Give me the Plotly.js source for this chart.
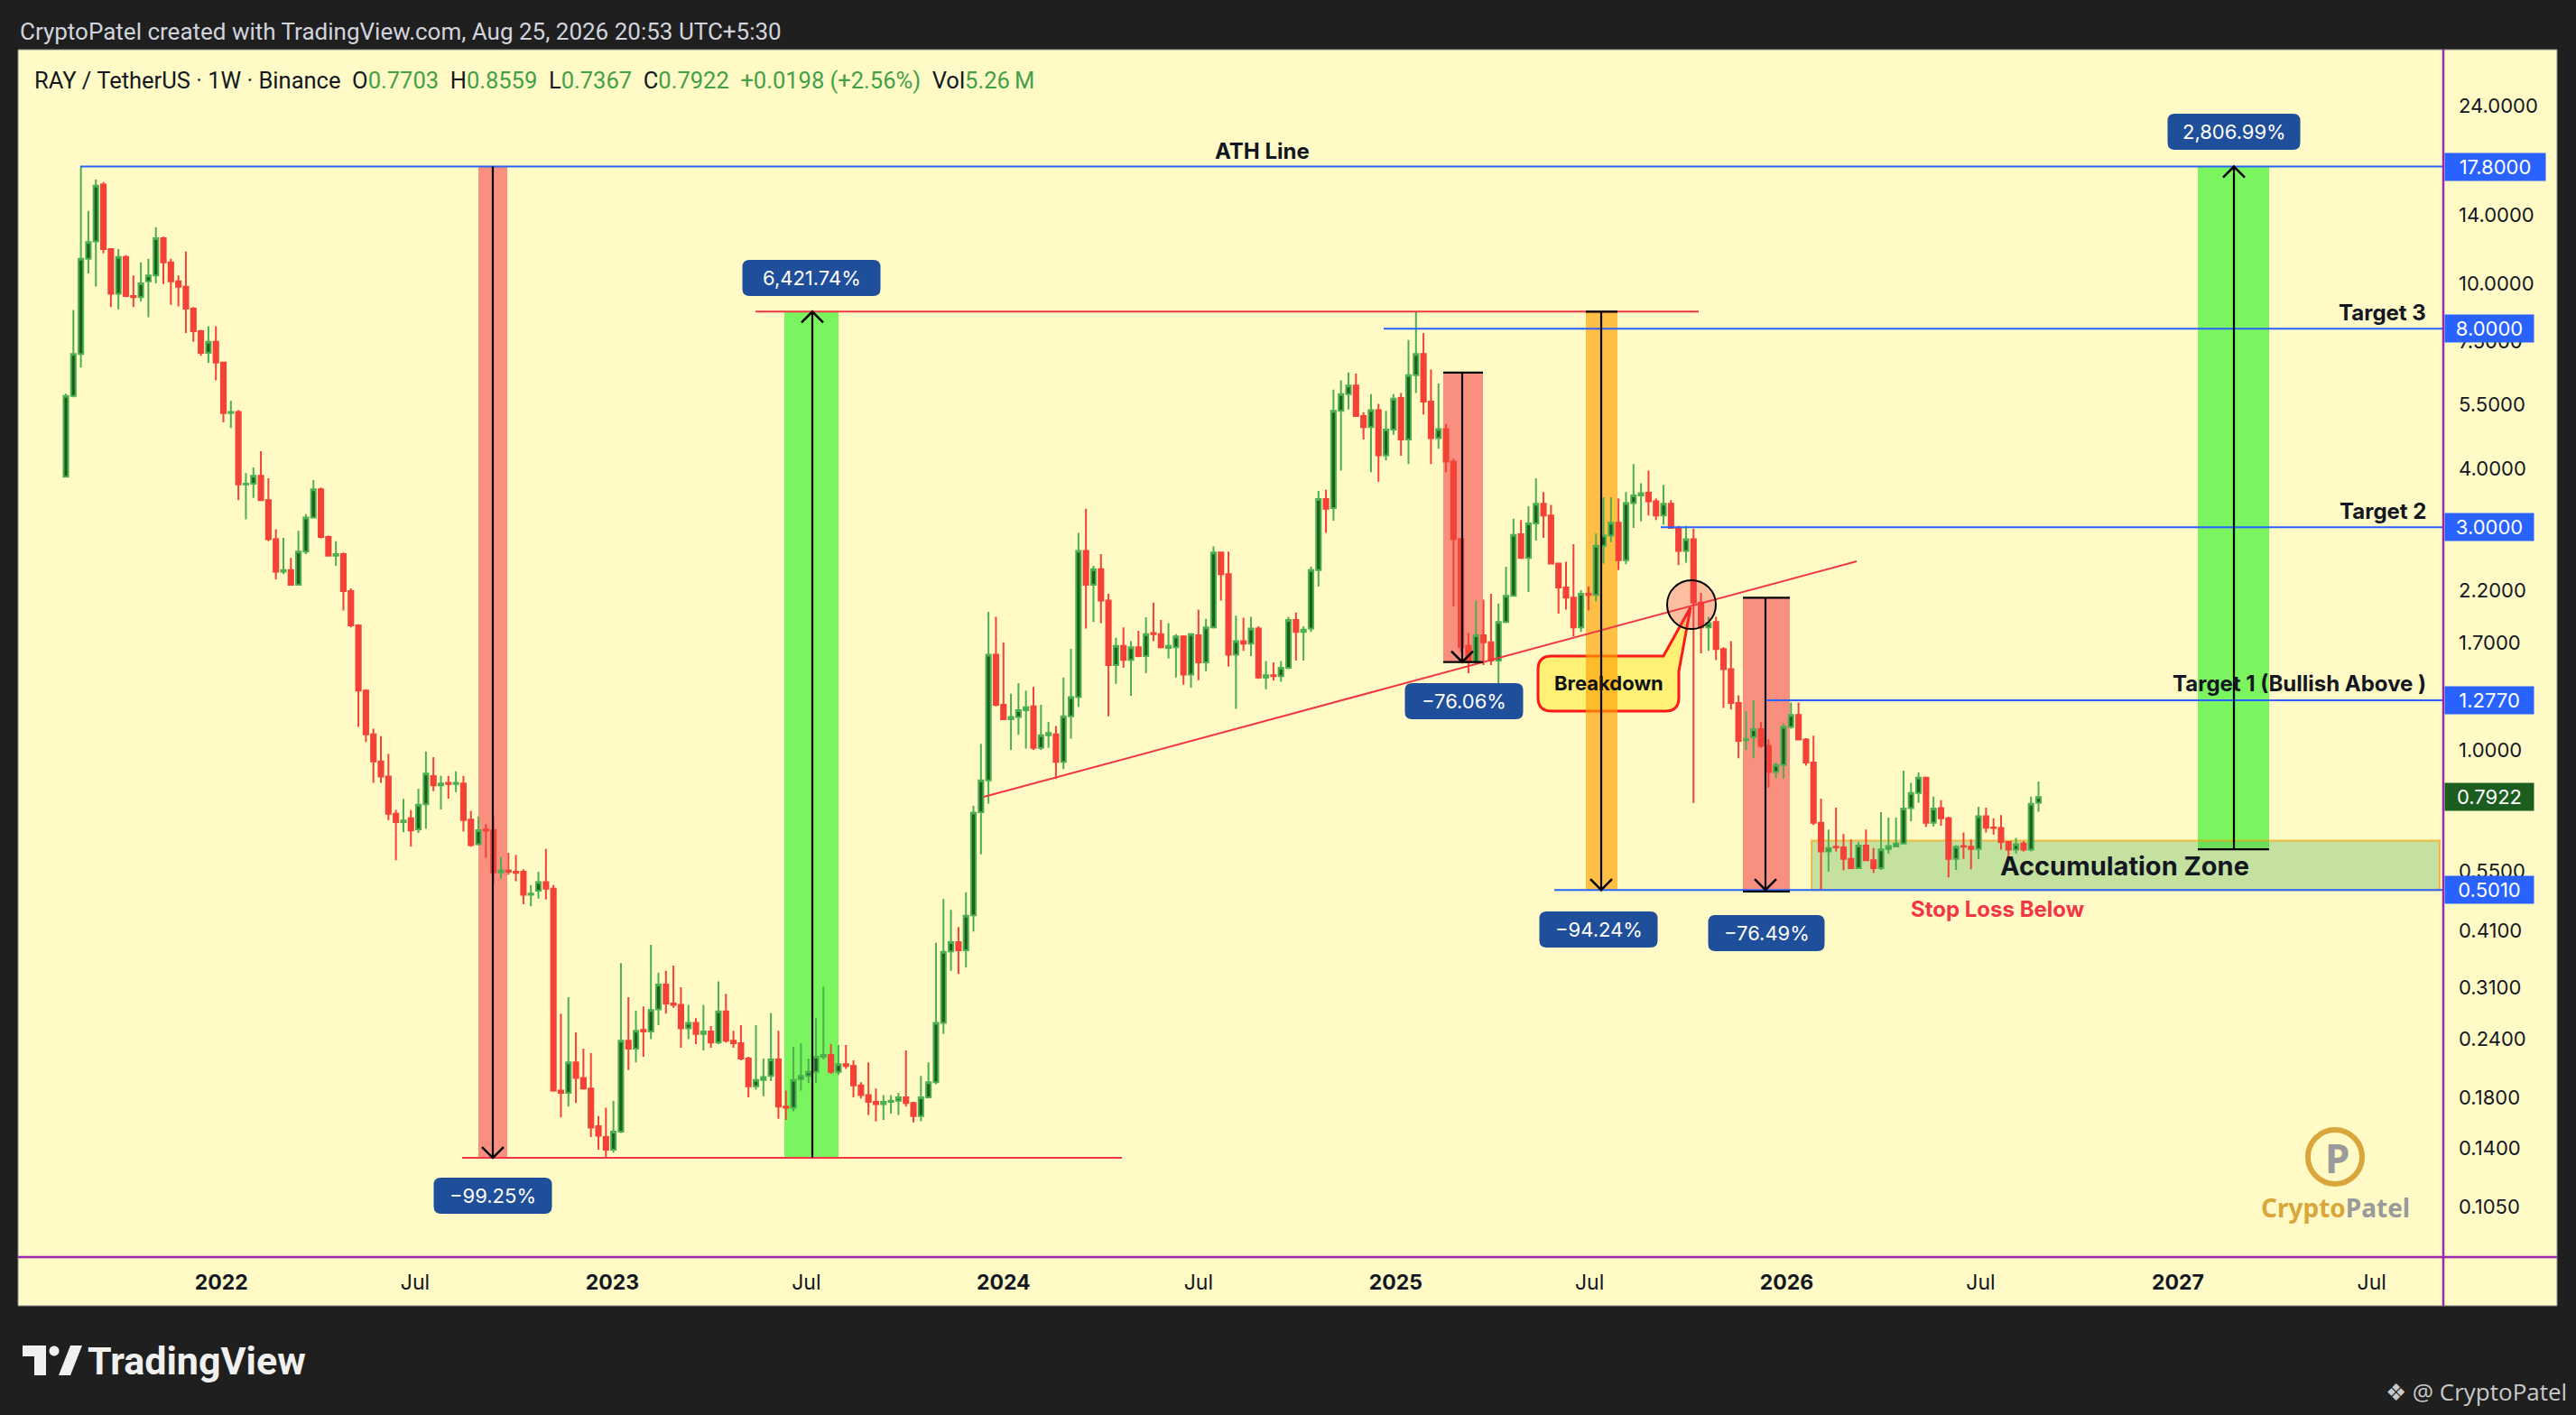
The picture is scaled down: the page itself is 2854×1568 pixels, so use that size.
<!DOCTYPE html>
<html><head><meta charset="utf-8">
<script src="https://cdn.plot.ly/plotly-3.0.1.min.js"></script>
<style>html,body{margin:0;padding:0;background:#1f1f1f;overflow:hidden}#chart{width:2854px;height:1568px}</style>
</head><body><div id="chart"></div>
<script>
// ---------------- DATA (weekly RAY/USDT, first bar week of 2021-08-09) ----------------
const firstWeek = '2021-08-09';
const openP = [
3.85,5.74,7.06,11.3,12.3,16.3,11.85,9.5,11.4,9.4,
9.35,10.1,10.4,12.5,11.1,10.1,9.84,8.83,7.9,7.1,
7.5,6.77,5.27,5.3,3.71,3.72,3.87,3.43,2.83,2.41,
2.43,2.26,2.66,3.15,3.62,2.86,2.61,2.63,2.19,1.85,
1.34,1.08,0.945,0.877,0.73,0.70,0.714,0.676,0.765,0.879,
0.84,0.85,0.845,0.847,0.709,0.628,0.675,0.673,0.546,0.552,
0.548,0.548,0.489,0.499,0.521,0.504,0.186,0.184,0.214,0.198,
0.188,0.156,0.148,0.139,0.152,0.238,0.229,0.251,0.249,0.278,
0.314,0.286,0.284,0.253,0.26,0.246,0.249,0.236,0.275,0.238,
0.235,0.218,0.19,0.196,0.2,0.217,0.172,0.171,0.197,0.2,
0.204,0.22,0.222,0.204,0.212,0.21,0.191,0.182,0.176,0.174,
0.176,0.177,0.18,0.175,0.164,0.18,0.194,0.26,0.37,0.387,
0.372,0.442,0.735,0.86,1.6,1.249,1.164,1.177,1.216,1.24,
1.01,1.075,1.08,0.943,1.18,1.297,2.67,2.26,2.44,2.09,
1.52,1.67,1.56,1.66,1.59,1.78,1.77,1.655,1.66,1.75,
1.45,1.76,1.54,1.83,2.65,2.38,1.6,1.71,1.69,1.82,
1.43,1.445,1.44,1.5,1.9,1.79,1.82,2.43,3.45,3.3,
5.33,5.79,6.04,5.2,4.92,5.35,4.28,4.86,5.68,4.63,
6.36,7.06,5.58,4.66,4.87,4.15,2.83,1.67,1.54,1.76,
1.70,1.555,1.88,2.14,2.9,2.58,3.06,3.37,3.18,2.51,
2.23,2.12,1.83,2.16,2.15,2.74,2.88,3.07,2.55,3.38,
3.51,3.56,3.41,3.18,3.37,2.99,2.67,2.83,2.07,1.83,
1.88,1.645,1.49,1.26,1.05,1.065,1.108,1.02,0.897,0.928,
1.12,1.188,1.053,0.94,0.698,0.606,0.62,0.618,0.584,0.558,
0.624,0.58,0.558,0.613,0.621,0.63,0.75,0.808,0.872,0.698,
0.75,0.714,0.584,0.622,0.62,0.613,0.721,0.682,0.68,0.635,
0.611,0.63,0.611,0.7703];
const highP = [
5.8,8.77,17.8,14.3,16.7,16.5,11.9,11.85,11.5,10.4,
11.1,11.3,13.2,12.6,11.3,10.4,11.7,8.9,7.95,8.1,
8.1,6.8,5.6,5.35,3.92,4.03,4.37,3.82,2.97,2.85,
2.58,2.95,3.2,3.79,3.65,2.88,2.8,2.65,2.22,1.86,
1.35,1.11,1.07,0.98,0.744,0.785,0.743,0.826,0.992,0.965,
0.88,0.88,0.9,0.88,0.74,0.72,0.693,0.725,0.589,0.602,
0.595,0.555,0.513,0.548,0.613,0.513,0.272,0.295,0.248,0.229,
0.224,0.164,0.171,0.177,0.349,0.295,0.276,0.282,0.382,0.333,
0.336,0.345,0.31,0.284,0.266,0.284,0.256,0.319,0.3,0.25,
0.257,0.22,0.257,0.218,0.273,0.25,0.186,0.231,0.235,0.218,
0.266,0.311,0.234,0.233,0.233,0.216,0.194,0.214,0.188,0.182,
0.182,0.184,0.227,0.176,0.2,0.214,0.386,0.479,0.454,0.417,
0.495,0.759,1.03,1.977,1.93,1.70,1.32,1.39,1.34,1.364,
1.249,1.148,1.125,1.43,1.647,2.92,3.29,2.48,2.63,2.16,
1.74,1.83,1.71,1.8,1.925,2.07,1.9,1.87,1.77,1.76,
1.78,2.0,1.91,2.73,2.66,2.66,1.94,1.92,1.93,1.84,
1.55,1.54,1.55,1.93,1.97,1.84,2.47,3.59,3.61,5.92,
6.2,6.44,6.41,5.29,5.79,5.52,5.33,5.79,5.82,7.56,
8.7,7.82,6.54,6.1,5.0,4.21,2.85,1.78,2.09,2.1,
2.16,2.06,2.47,3.13,3.11,3.33,3.82,3.57,3.35,2.52,
2.53,2.76,2.2,2.24,2.91,3.48,3.48,3.46,3.57,4.1,
3.73,3.97,3.46,3.7,3.43,3.02,3.02,2.98,2.17,1.93,
1.93,1.66,1.71,1.31,1.21,1.277,1.147,1.054,0.94,1.139,
1.264,1.264,1.06,1.073,0.786,0.675,0.752,0.66,0.643,0.635,
0.675,0.616,0.735,0.716,0.716,0.903,0.85,0.895,0.873,0.794,
0.78,0.719,0.625,0.665,0.643,0.755,0.752,0.714,0.725,0.638,
0.648,0.638,0.794,0.8559];
const lowP = [
3.85,5.7,6.6,10.5,9.85,11.6,8.9,8.8,9.35,8.9,
9.14,8.46,10.0,9.97,9.0,8.93,7.83,7.5,7.0,6.75,
6.2,5.04,4.9,3.43,3.12,3.47,3.42,2.8,2.32,2.38,
2.25,2.25,2.63,3.13,2.84,2.6,2.48,1.99,1.83,1.12,
1.04,0.85,0.85,0.707,0.58,0.666,0.62,0.664,0.677,0.816,
0.745,0.786,0.812,0.668,0.62,0.624,0.587,0.517,0.53,0.54,
0.523,0.467,0.462,0.48,0.478,0.185,0.163,0.172,0.175,0.187,
0.148,0.139,0.1335,0.137,0.151,0.206,0.214,0.22,0.24,0.257,
0.272,0.28,0.23,0.24,0.234,0.227,0.23,0.234,0.236,0.23,
0.216,0.18,0.187,0.181,0.195,0.162,0.161,0.168,0.186,0.193,
0.193,0.217,0.202,0.201,0.207,0.18,0.179,0.165,0.16,0.161,
0.166,0.165,0.172,0.159,0.16,0.179,0.192,0.246,0.336,0.331,
0.342,0.408,0.597,0.767,1.24,1.16,1.0,1.077,1.007,1.0,
1.0,1.01,0.866,0.91,1.057,1.235,1.82,1.88,1.87,1.18,
1.386,1.5,1.306,1.58,1.46,1.71,1.65,1.57,1.43,1.38,
1.36,1.41,1.475,1.82,2.09,1.51,1.225,1.63,1.59,1.42,
1.35,1.407,1.4,1.49,1.555,1.555,1.79,2.24,2.92,3.1,
3.97,5.37,5.18,4.63,3.94,3.76,4.18,4.74,4.27,4.1,
5.82,5.24,4.1,4.42,3.94,2.03,1.62,1.46,1.53,1.52,
1.52,1.38,1.87,2.13,2.57,2.18,2.81,2.85,2.5,1.96,
2.0,1.75,1.79,1.99,2.08,2.51,2.79,2.43,2.5,2.99,
3.09,3.18,3.11,3.04,2.98,2.49,2.52,0.77,1.61,1.63,
1.56,1.23,1.22,0.96,1.0,0.96,1.01,0.83,0.87,0.868,
1.11,1.05,0.925,0.69,0.501,0.548,0.606,0.552,0.556,0.556,
0.578,0.545,0.553,0.6,0.62,0.627,0.703,0.771,0.683,0.685,
0.688,0.533,0.553,0.584,0.555,0.584,0.665,0.658,0.611,0.587,
0.599,0.606,0.606,0.7367];
const closeP = [
5.74,7.06,11.3,12.27,16.2,11.85,9.5,11.4,9.4,9.35,
10.0,10.4,12.5,11.1,10.1,9.84,8.83,7.9,7.1,7.5,
6.77,5.27,5.3,3.71,3.72,3.87,3.43,2.83,2.41,2.43,
2.26,2.66,3.15,3.62,2.86,2.61,2.63,2.19,1.85,1.34,
1.08,0.945,0.877,0.73,0.70,0.706,0.672,0.763,0.89,0.84,
0.847,0.845,0.85,0.707,0.625,0.673,0.672,0.546,0.552,0.548,
0.545,0.489,0.492,0.521,0.504,0.186,0.184,0.214,0.198,0.188,
0.155,0.149,0.139,0.152,0.238,0.229,0.25,0.249,0.277,0.314,
0.286,0.284,0.253,0.26,0.246,0.249,0.236,0.275,0.238,0.235,
0.218,0.19,0.196,0.199,0.217,0.172,0.171,0.196,0.2,0.204,
0.22,0.222,0.204,0.212,0.21,0.191,0.182,0.176,0.174,0.176,
0.177,0.18,0.175,0.164,0.18,0.194,0.26,0.369,0.387,0.372,
0.441,0.734,0.86,1.6,1.249,1.164,1.177,1.216,1.234,1.01,
1.075,1.087,0.943,1.18,1.297,2.67,2.26,2.44,2.09,1.52,
1.67,1.56,1.66,1.59,1.77,1.77,1.66,1.67,1.75,1.45,
1.77,1.54,1.83,2.65,2.38,1.6,1.71,1.69,1.82,1.43,
1.445,1.44,1.5,1.9,1.79,1.81,2.43,3.45,3.29,5.33,
5.79,6.04,5.2,4.92,5.35,4.28,4.86,5.66,4.63,6.36,
7.06,5.58,4.66,4.87,4.15,2.83,1.66,1.54,1.76,1.70,
1.555,1.88,2.14,2.89,2.58,3.06,3.37,3.18,2.51,2.23,
2.12,1.83,2.16,2.15,2.74,2.88,3.07,2.55,3.38,3.51,
3.55,3.41,3.18,3.37,2.99,2.67,2.83,2.07,1.83,1.87,
1.645,1.49,1.26,1.046,1.054,1.108,1.02,0.897,0.928,1.12,
1.188,1.053,0.94,0.698,0.606,0.616,0.618,0.584,0.558,0.624,
0.58,0.558,0.612,0.622,0.63,0.749,0.808,0.872,0.698,0.749,
0.714,0.584,0.62,0.62,0.613,0.721,0.681,0.68,0.635,0.611,
0.628,0.611,0.766,0.7922];

const priceTicks = [24,14,10,7.5,5.5,4,2.2,1.7,1,0.55,0.41,0.31,0.24,0.18,0.14,0.105];
const levelValues = [17.8, 8, 3, 1.277, 0.7922, 0.501];
const levelLabels = ['17.8000','8.0000','3.0000','1.2770','0.7922','0.5010'];
const timeTickDates = ['2022-01-01','2022-07-01','2023-01-01','2023-07-01','2024-01-01','2024-07-01','2025-01-01','2025-07-01','2026-01-01','2026-07-01','2027-01-01','2027-07-01'];
const timeTickLabels = ['<b>2022</b>','Jul','<b>2023</b>','Jul','<b>2024</b>','Jul','<b>2025</b>','Jul','<b>2026</b>','Jul','<b>2027</b>','Jul'];
const moveLabels = ['\u221299.25%','6,421.74%','\u221276.06%','\u221294.24%','\u221276.49%','2,806.99%'];
const athPrice = 17.8, cycleLow = 0.1335, rangeTop = 8.7, stopPrice = 0.501, zoneTop = 0.639;

// ---------------- helpers ----------------
const DAYMS = 86400000;
const T0 = Date.parse(firstWeek + 'T00:00:00Z');
function dateAtIndex(i){ return new Date(T0 + Math.round(i*7*DAYMS)).toISOString().replace('T',' ').slice(0,19); }
const dates = openP.map((_, i) => dateAtIndex(i));
// reference-pixel calibration for the drawings
function xAt(px){ return dateAtIndex((px - 73) / 8.31); }
function pAt(py){ return Math.exp((831 - py) / 224.5); }
function lAt(py){ return Math.log10(pAt(py)); }
function xp(px){ return (px - 20) / 2687; }
function yp(py){ return (1393 - py) / 1338; }
function P(x, y){ return xp(x).toFixed(5) + ',' + yp(y).toFixed(5); }
function rr(w,h,r){ const a=w/2,b=h/2; return `M${-a+r},${b} L${a-r},${b} Q${a},${b} ${a},${b-r} L${a},${-b+r} Q${a},${-b} ${a-r},${-b} L${-a+r},${-b} Q${-a},${-b} ${-a},${-b+r} L${-a},${b-r} Q${-a},${b} ${-a+r},${b} Z`; }
function circ(r){ const k = +(0.5523*r).toFixed(2); return `M${r},0 C${r},${k} ${k},${r} 0,${r} C${-k},${r} ${-r},${k} ${-r},0 C${-r},${-k} ${-k},${-r} 0,${-r} C${k},${-r} ${r},${-k} ${r},0 Z`; }

const BLUE = '#2962ff', RED = '#f23645';
const shapes = [], ann = [];

// pane background (chart + axis area)
shapes.push({type:'rect', xref:'paper', yref:'paper', x0:0, x1:xp(2833), y0:yp(1447), y1:1, fillcolor:'#fffac6', line:{color:'#8c8c8c', width:1}, layer:'below'});

// filled zones (under candles)
function zone(x0, x1, y0, y1, fill, line){ shapes.push({type:'rect', xref:'x', yref:'y', x0:xAt(x0), x1:xAt(x1), y0, y1, fillcolor:fill, line: line || {width:0}, layer:'below'}); }
zone(530, 562, cycleLow, athPrice, 'rgba(242,54,69,0.55)');
zone(869, 929, cycleLow, rangeTop, 'rgba(0,240,0,0.52)');
zone(1599, 1643, 1.543, 6.44, 'rgba(242,54,69,0.55)');
// breakdown callout (drawn before orange band so the band tints it)
shapes.push({type:'path', xref:'paper', yref:'paper', layer:'below', fillcolor:'#fff176', line:{color:'#ff1a1a', width:3},
  path:`M${P(1719,727)} L${P(1843,727)} L${P(1873,673)} L${P(1860,744)} L${P(1860,773)} Q${P(1860,788)} ${P(1845,788)} L${P(1719,788)} Q${P(1704,788)} ${P(1704,773)} L${P(1704,742)} Q${P(1704,727)} ${P(1719,727)} Z`});
zone(1757, 1792, stopPrice, rangeTop, 'rgba(255,160,0,0.65)');
zone(1931, 1983, stopPrice, 2.12, 'rgba(242,54,69,0.55)');
zone(2435, 2514, 0.6123, athPrice, 'rgba(0,240,0,0.52)');
zone(2007, 2703, stopPrice, zoneTop, 'rgba(76,175,80,0.32)', {color:'rgba(255,152,0,0.6)', width:2});

// horizontal levels
function hline(x0, x1, p, color){ shapes.push({type:'line', xref:'x', yref:'y', x0:xAt(x0), x1:xAt(x1), y0:p, y1:p, line:{color, width:2}, layer:'above'}); }
hline(89, 2707, athPrice, BLUE);
hline(1533, 2707, levelValues[1], BLUE);
hline(1840, 2707, levelValues[2], BLUE);
hline(1956, 2707, levelValues[3], BLUE);
hline(1722, 2707, stopPrice, BLUE);
hline(512, 1243, cycleLow, RED);
hline(837, 1882, rangeTop, RED);
// rising trendline
shapes.push({type:'line', xref:'x', yref:'y', x0:xAt(1090), x1:xAt(2057), y0:0.793, y1:2.537, line:{color:RED, width:2}, layer:'above'});

// measure arrows
function blk(x0, x1, y0, y1){ shapes.push({type:'line', xref:'x', yref:'y', x0:xAt(x0), x1:xAt(x1), y0, y1, line:{color:'#000', width:2.2}, layer:'above'}); }
function chevron(x, p, down){ shapes.push({type:'path', xref:'x', yref:'y', xsizemode:'pixel', ysizemode:'pixel', xanchor:xAt(x), yanchor:p,
  path: down ? 'M-12,12 L0,0 L12,12' : 'M-12,-12 L0,0 L12,-12', line:{color:'#000', width:2.5}, layer:'above'}); }
blk(546, 546, athPrice, cycleLow); chevron(546, cycleLow, true);
blk(900, 900, cycleLow, rangeTop); chevron(900, rangeTop, false);
blk(1620, 1620, 6.44, 1.543); chevron(1620, 1.543, true);
blk(1599, 1643, 6.44, 6.44); blk(1599, 1643, 1.543, 1.543);
blk(1774, 1774, rangeTop, stopPrice); chevron(1774, stopPrice, true);
blk(1757, 1792, rangeTop, rangeTop);
blk(1956, 1956, 2.12, stopPrice); chevron(1956, stopPrice, true);
blk(1931, 1983, 2.12, 2.12); blk(1931, 1983, 0.497, 0.497);
blk(2475, 2475, 0.6123, athPrice); chevron(2475, athPrice, false);
blk(2435, 2514, 0.6123, 0.6123);

// breakdown circle
shapes.push({type:'path', xref:'x', yref:'y', xsizemode:'pixel', ysizemode:'pixel', xanchor:xAt(1874), yanchor:pAt(670), path:circ(27),
  fillcolor:'rgba(242,54,69,0.3)', line:{color:'#000', width:2}, layer:'above'});

// move labels (rounded boxes)
const moveSpots = [[546,1325,131],[899,308,153],[1622,777,131],[1771,1030,131],[1957,1034,129],[2475,146,147]];
moveSpots.forEach((s, k) => {
  shapes.push({type:'path', xref:'x', yref:'y', xsizemode:'pixel', ysizemode:'pixel', xanchor:xAt(s[0]), yanchor:pAt(s[1]), path:rr(s[2],40,8), fillcolor:'#1f4e9a', line:{width:0}, layer:'above'});
  ann.push({xref:'x', yref:'y', x:xAt(s[0]), y:lAt(s[1]), xanchor:'center', yanchor:'middle', text:moveLabels[k], showarrow:false, font:{family:'Inter', size:22, color:'#ffffff'}});
});

// axis separators (purple)
shapes.push({type:'line', xref:'paper', yref:'paper', x0:1, x1:1, y0:yp(1447), y1:1, line:{color:'#9c27b0', width:2.5}, layer:'above'});
shapes.push({type:'line', xref:'paper', yref:'paper', x0:0, x1:xp(2833), y0:0, y1:0, line:{color:'#9c27b0', width:2.5}, layer:'above'});

// price-level tags on the axis
levelValues.forEach((v, k) => {
  ann.push({xref:'paper', yref:'y', x:1, y:Math.log10(v), xanchor:'left', yanchor:'middle', xshift:1, showarrow:false,
    text:levelLabels[k], font:{family:'Inter', size:22, color:'#ffffff'}, bgcolor: k === 4 ? '#1b5e20' : BLUE,
    width: 13*levelLabels[k].length + 20, height: 30, borderpad: 0, align:'center'});
});

// texts on the chart
const boldInk = {family:'Inter', size:24, color:'#131722', weight:700};
ann.push({xref:'x', yref:'y', x:xAt(1398), y:Math.log10(athPrice), xanchor:'center', yanchor:'bottom', yshift:1, text:'ATH Line', showarrow:false, font:boldInk});
ann.push({xref:'paper', yref:'y', x:xp(2690), xanchor:'right', y:Math.log10(levelValues[1]), yanchor:'bottom', yshift:1, text:'Target 3', showarrow:false, font:boldInk});
ann.push({xref:'paper', yref:'y', x:xp(2690), xanchor:'right', y:Math.log10(levelValues[2]), yanchor:'bottom', yshift:1, text:'Target 2', showarrow:false, font:boldInk});
ann.push({xref:'paper', yref:'y', x:xp(2690), xanchor:'right', y:Math.log10(levelValues[3]), yanchor:'bottom', yshift:2, text:'Target 1 (Bullish Above )', showarrow:false, font:boldInk});
ann.push({xref:'x', yref:'y', x:xAt(2354), y:lAt(959), xanchor:'center', yanchor:'middle', text:'Accumulation Zone', showarrow:false, font:{family:'Inter', size:29, color:'#131722', weight:700}});
ann.push({xref:'x', yref:'y', x:xAt(2213), y:lAt(1007), xanchor:'center', yanchor:'middle', text:'Stop Loss Below', showarrow:false, font:{family:'Inter', size:24, color:RED, weight:700}});
ann.push({xref:'paper', yref:'paper', x:xp(1782), y:yp(757), xanchor:'center', yanchor:'middle', text:'Breakdown', showarrow:false, font:{family:'Inter', size:22, color:'#111', weight:700}});

// header / legend
const G = (t) => `<span style="color:#43a047">${t}</span>`;
const S = '\u00a0\u00a0';
ann.push({xref:'paper', yref:'paper', x:0, y:yp(35), xanchor:'left', yanchor:'middle', showarrow:false,
  text:'CryptoPatel created with TradingView.com, Aug 25, 2026 20:53 UTC+5:30', font:{family:'Roboto', size:26, color:'#d1d4dc'}});
ann.push({xref:'paper', yref:'paper', x:xp(36), y:yp(89), xanchor:'left', yanchor:'middle', showarrow:false,
  text:'RAY / TetherUS · 1W · Binance' + S + 'O' + G('0.7703') + S + 'H' + G('0.8559') + S + 'L' + G('0.7367') + S + 'C' + G('0.7922') + S + G('+0.0198 (+2.56%)') + S + 'Vol' + G('5.26\u2009M'),
  font:{family:'Roboto', size:25.5, color:'#131722'}});

// TradingView mark + wordmark
const markX = xp(25), markY = yp(1491);
shapes.push({type:'path', xref:'paper', yref:'paper', xsizemode:'pixel', ysizemode:'pixel', xanchor:markX, yanchor:markY, path:'M0,0 H26 V-33 H13 V-12 H0 Z', fillcolor:'#f0f0f0', line:{width:0}});
shapes.push({type:'path', xref:'paper', yref:'paper', xsizemode:'pixel', ysizemode:'pixel', xanchor:xp(60), yanchor:yp(1497), path:circ(5.5), fillcolor:'#f0f0f0', line:{width:0}});
shapes.push({type:'path', xref:'paper', yref:'paper', xsizemode:'pixel', ysizemode:'pixel', xanchor:markX, yanchor:markY, path:'M40,-33 L53,0 L66,0 L53,-33 Z', fillcolor:'#f0f0f0', line:{width:0}});
ann.push({xref:'paper', yref:'paper', x:xp(95), y:yp(1508), xanchor:'left', yanchor:'middle', showarrow:false, text:'TradingView', font:{family:'Roboto', size:43, color:'#f0f0f0', weight:700}});
ann.push({xref:'paper', yref:'paper', x:xp(2846), y:yp(1542), xanchor:'right', yanchor:'middle', showarrow:false, text:'\u2756 @ CryptoPatel', font:{family:'Open Sans', size:26, color:'#c9c9c9'}});

// CryptoPatel watermark logo
shapes.push({type:'path', xref:'paper', yref:'paper', xsizemode:'pixel', ysizemode:'pixel', xanchor:xp(2587), yanchor:yp(1282), path:circ(30), fillcolor:'rgba(0,0,0,0)', line:{color:'#d9a63c', width:6}});
ann.push({xref:'paper', yref:'paper', x:xp(2589), y:yp(1283), xanchor:'center', yanchor:'middle', showarrow:false, text:'P', font:{family:'Noto Sans', size:44, color:'#9a9a9a', weight:700}});
ann.push({xref:'paper', yref:'paper', x:xp(2587), y:yp(1338), xanchor:'center', yanchor:'middle', showarrow:false, text:'<span style="color:#d9a63c">Crypto</span><span style="color:#9a9a9a">Patel</span>', font:{family:'Noto Sans', size:28, weight:700}});

const trace = {
  type:'candlestick', x:dates, open:openP, high:highP, low:lowP, close:closeP,
  increasing:{line:{color:'#4caf50', width:2}, fillcolor:'#1b5e20'},
  decreasing:{line:{color:'#f44336', width:2}, fillcolor:'#f44336'},
  whiskerwidth:0, hoverinfo:'skip', showlegend:false
};

const layout = {
  width:2854, height:1568, margin:{l:20, r:147, t:55, b:175},
  paper_bgcolor:'#1f1f1f', plot_bgcolor:'#fffac6', showlegend:false, boxgap:0.12,
  xaxis:{type:'date', range:[xAt(20), xAt(2707)], rangeslider:{visible:false}, showgrid:false, zeroline:false, showline:false,
    tickmode:'array', tickvals:timeTickDates, ticktext:timeTickLabels, ticks:'', ticklabelstandoff:12,
    tickfont:{family:'Inter', size:23, color:'#131722'}, fixedrange:true},
  yaxis:{type:'log', side:'right', range:[lAt(1393), lAt(55)], showgrid:false, zeroline:false, showline:false,
    tickmode:'array', tickvals:priceTicks, ticktext:priceTicks.map(v => v.toFixed(4)), ticks:'', ticklabelstandoff:16,
    tickfont:{family:'Inter', size:22, color:'#131722'}, fixedrange:true},
  shapes, annotations:ann
};

Plotly.newPlot('chart', [trace], layout, {displayModeBar:false, staticPlot:true});
</script>
</body></html>
